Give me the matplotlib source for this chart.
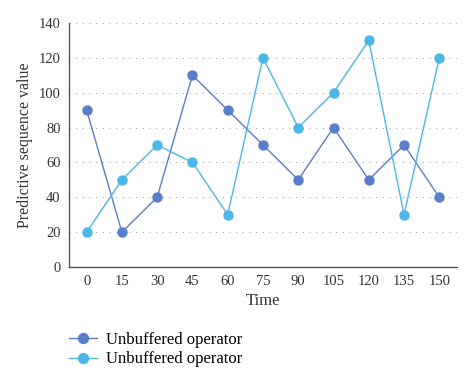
import matplotlib
matplotlib.use("Agg")
import matplotlib.pyplot as plt
import numpy as np

times = [0, 15, 30, 45, 60, 75, 90, 105, 120, 135, 150]
series_a = [90, 20, 40, 110, 90, 70, 50, 80, 50, 70, 40]
series_b = [20, 50, 70, 60, 30, 120, 80, 100, 130, 30, 120]
labels = ["Unbuffered operator", "Unbuffered operator"]
yticks = [0, 20, 40, 60, 80, 100, 120, 140]

plt.rcParams['font.family'] = ['Liberation Serif', 'DejaVu Serif']

fig = plt.figure(figsize=(4.74, 3.82), dpi=100)
ax = fig.add_axes([0.1456, 0.301, 0.8184, 0.639])

x = np.arange(len(times))
ax.plot(x, series_a, color="#5b7ec8", lw=1.0, marker="o", ms=6.5, label=labels[0], zorder=3)
ax.plot(x, series_b, color="#4db6e8", lw=1.0, marker="o", ms=6.5, label=labels[1], zorder=3)

ax.set_xlim(-0.5, 10.5)
ax.set_ylim(0, 140)
ax.set_xticks(x)
ax.set_xticklabels([str(t) for t in times])
ax.set_yticks(yticks)
ax.tick_params(length=0, labelsize=10.5, colors="#333333", pad=6)
for yv in yticks[1:]:
    ax.axhline(yv, color="#aaaaaa", lw=0.8, ls=(0, (1, 5)), zorder=1)

for s in ["top", "right"]:
    ax.spines[s].set_visible(False)
for s in ["left", "bottom"]:
    ax.spines[s].set_color("#555555")
    ax.spines[s].set_linewidth(1.0)

ax.set_xlabel("Time", fontsize=12, color="#333333", labelpad=3)
ax.set_ylabel("Predictive sequence value", fontsize=11.5, color="#333333")

fig.legend(loc="upper left", bbox_to_anchor=(0.113, 0.17), frameon=False,
           fontsize=12, handlelength=1.7, labelspacing=0.2, handletextpad=0.55,
           markerscale=1.1)

fig.savefig("out.png", dpi=100)
